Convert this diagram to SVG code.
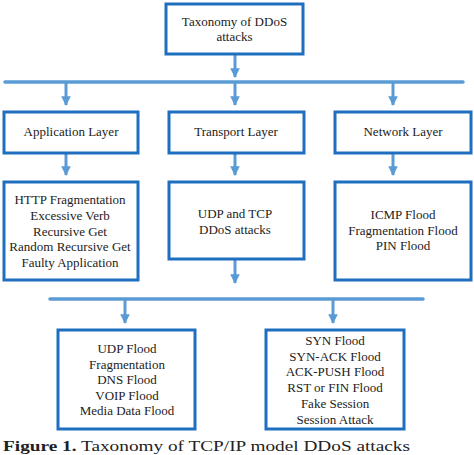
<svg xmlns="http://www.w3.org/2000/svg" width="474" height="455" viewBox="0 0 474 455">
<defs>
<style>
.box{fill:#fff;stroke:#1f6fc0;stroke-width:3}
.t{font-family:"Liberation Serif","Times New Roman",serif;font-size:13px;fill:#222;text-anchor:middle}
.ln{stroke:#5b9bd5;stroke-width:3;fill:none}
.bar{stroke:#5b9bd5;stroke-width:3.5;stroke-linecap:round}
.cap{font-family:"Liberation Serif","Times New Roman",serif;font-size:14px;fill:#222}
</style>
<marker id="ah" viewBox="0 0 10 10" refX="9" refY="5" markerWidth="3.2" markerHeight="3.2" orient="auto" markerUnits="strokeWidth">
<path d="M0,0 L10,5 L0,10 z" fill="#5b9bd5"/>
</marker>
</defs>
<rect width="474" height="455" fill="#fff"/>
<g id="connectors">
<line class="ln" x1="235" y1="55" x2="235" y2="77" marker-end="url(#ah)"/>
<line class="bar" x1="5" y1="82" x2="463" y2="82"/>
<line class="ln" x1="66" y1="82" x2="66" y2="105" marker-end="url(#ah)"/>
<line class="ln" x1="235" y1="82" x2="235" y2="105" marker-end="url(#ah)"/>
<line class="ln" x1="393" y1="82" x2="393" y2="105" marker-end="url(#ah)"/>
<line class="ln" x1="66" y1="154" x2="66" y2="175" marker-end="url(#ah)"/>
<line class="ln" x1="235" y1="154" x2="235" y2="175" marker-end="url(#ah)"/>
<line class="ln" x1="393" y1="154" x2="393" y2="175" marker-end="url(#ah)"/>
<line class="ln" x1="235" y1="260" x2="235" y2="283" marker-end="url(#ah)"/>
<line class="bar" x1="50" y1="299" x2="423" y2="299"/>
<line class="ln" x1="125" y1="299" x2="125" y2="323" marker-end="url(#ah)"/>
<line class="ln" x1="333" y1="299" x2="333" y2="323" marker-end="url(#ah)"/>
</g>
<g id="root">
<rect class="box" x="166" y="4" width="137" height="50"/>
<text class="t" x="234.5" y="26">Taxonomy of DDoS</text>
<text class="t" x="234.5" y="40.5">attacks</text>
</g>
<g id="app">
<rect class="box" x="4" y="112" width="134" height="41"/>
<text class="t" x="71" y="136">Application Layer</text>
</g>
<g id="transport">
<rect class="box" x="169" y="112" width="135" height="41"/>
<text class="t" x="236" y="136">Transport Layer</text>
</g>
<g id="network">
<rect class="box" x="335" y="112" width="136" height="41"/>
<text class="t" x="403" y="136">Network Layer</text>
</g>
<g id="app-attacks">
<rect class="box" x="4" y="182" width="134" height="98"/>
<text class="t" x="70" y="204">HTTP Fragmentation</text>
<text class="t" x="70" y="220">Excessive Verb</text>
<text class="t" x="70" y="235.5">Recursive Get</text>
<text class="t" x="70" y="251">Random Recursive Get</text>
<text class="t" x="70" y="267">Faulty Application</text>
</g>
<g id="transport-attacks">
<rect class="box" x="169" y="182" width="135" height="77"/>
<text class="t" x="235" y="218">UDP and TCP</text>
<text class="t" x="235" y="233.5">DDoS attacks</text>
</g>
<g id="network-attacks">
<rect class="box" x="335" y="182" width="136" height="98"/>
<text class="t" x="403" y="219">ICMP Flood</text>
<text class="t" x="403" y="234.5">Fragmentation Flood</text>
<text class="t" x="403" y="250">PIN Flood</text>
</g>
<g id="udp">
<rect class="box" x="58" y="330" width="137" height="99"/>
<text class="t" x="127" y="353">UDP Flood</text>
<text class="t" x="127" y="368.5">Fragmentation</text>
<text class="t" x="127" y="384">DNS Flood</text>
<text class="t" x="127" y="399.5">VOIP Flood</text>
<text class="t" x="127" y="415">Media Data Flood</text>
</g>
<g id="tcp">
<rect class="box" x="266" y="330" width="138" height="99"/>
<text class="t" x="335" y="344.5">SYN Flood</text>
<text class="t" x="335" y="360.5">SYN-ACK Flood</text>
<text class="t" x="335" y="376">ACK-PUSH Flood</text>
<text class="t" x="335" y="392">RST or FIN Flood</text>
<text class="t" x="335" y="408">Fake Session</text>
<text class="t" x="335" y="423.5">Session Attack</text>
</g>
<text class="cap" x="3" y="451" textLength="407" lengthAdjust="spacingAndGlyphs"><tspan font-weight="bold">Figure 1.</tspan> Taxonomy of TCP/IP model DDoS attacks</text>
</svg>
